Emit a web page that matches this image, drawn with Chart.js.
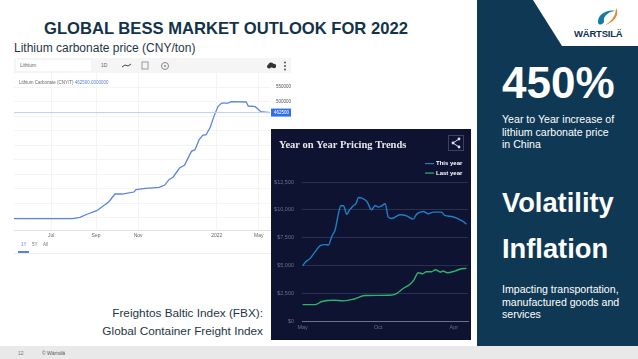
<!DOCTYPE html>
<html>
<head>
<meta charset="utf-8">
<title>Global BESS market outlook for 2022</title>
<script src="https://cdn.jsdelivr.net/npm/chart.js@4"></script>
<style>
    html, body { margin: 0; padding: 0; background: #fff; }
    #slide { position: relative; width: 638px; height: 359px; overflow: hidden; font-family: "Liberation Sans", Arial, sans-serif; }
    #slide > * { position: absolute; }
    canvas { display: block; }
    .side { left: 502px; color: #fff; white-space: nowrap; }
    .big { font-weight: bold; }
    .small { font-size: 10.6px; line-height: 12.5px; }
    .fbx { right: 375px; font-size: 11.8px; color: #1f3644; white-space: nowrap; }
</style>
</head>
<body>
<div id="slide">
    <div style="left:44px;top:19px;font-size:16.6px;font-weight:bold;color:#12334a;white-space:nowrap">GLOBAL BESS MARKET OUTLOOK FOR 2022</div>
    <div style="left:14px;top:41px;font-size:12px;color:#1f3644;white-space:nowrap">Lithium carbonate price (CNY/ton)</div>

    <!-- canvas starts above the plot, chart.js keeps about 9px on top for the tick labels -->
    <canvas id="lithiumChart" width="277" height="181" style="left:14px;top:64px"></canvas>

    <!-- lithium widget toolbar -->
    <div style="left:14px;top:58px;width:277px;height:15px;background:#f5f5f5"></div>
    <div style="left:16px;top:60px;width:75px;height:11px;background:#fff"></div>
    <div style="left:20px;top:62px;font-size:5px;color:#666">Lithium</div>
    <div style="left:101px;top:62px;font-size:5px;color:#666">1D</div>
    <svg style="left:120px;top:60px" width="60" height="12">
        <path d="M2 7 L5 5 L8 6 L11 4" fill="none" stroke="#444" stroke-width="1"/>
        <rect x="22" y="2" width="6" height="7" fill="none" stroke="#999"/>
        <circle cx="45" cy="6" r="3.5" fill="none" stroke="#888"/><circle cx="45" cy="6" r="1" fill="#888"/>
    </svg>
    <svg style="left:266px;top:60px" width="24" height="12">
        <circle cx="5" cy="5" r="2.6" fill="#333"/><circle cx="8" cy="6" r="2.2" fill="#333"/><circle cx="3" cy="6.5" r="2" fill="#333"/>
        <circle cx="19" cy="2.5" r="0.9" fill="#444"/><circle cx="19" cy="6" r="0.9" fill="#444"/><circle cx="19" cy="9.5" r="0.9" fill="#444"/>
    </svg>
    <div style="left:19px;top:80px;font-size:4.5px;color:#666;white-space:nowrap;background:#fff">Lithium Carbonate (CNY/T) <span style="color:#5c80e0">462500.0000000</span></div>

    <div style="left:21px;top:242px;font-size:4.5px;color:#5c80e0">1Y</div>
    <div style="left:32px;top:242px;font-size:4.5px;color:#777">5Y</div>
    <div style="left:43px;top:242px;font-size:4.5px;color:#777">All</div>
    <div style="left:18px;top:251px;width:11px;height:1.5px;background:#5c80e0"></div>
    <div style="left:14px;top:253px;width:257px;height:1px;background:#eee"></div>

    <div class="fbx" style="top:306px">Freightos Baltic Index (FBX):</div>
    <div class="fbx" style="top:324px">Global Container Freight Index</div>

    <!-- pricing trends card -->
    <div style="left:271px;top:129px;width:200px;height:211px;background:#0d1330"></div>
    <canvas id="trendChart" width="200" height="211" style="left:271px;top:129px"></canvas>
    <svg style="left:448px;top:135px" width="16" height="16">
        <rect x="0.5" y="0.5" width="15" height="15" fill="none" stroke="#3a4260"/>
        <path d="M11 4 L5 8 L11 12" fill="none" stroke="#dde" stroke-width="1"/>
        <circle cx="11" cy="4" r="1.4" fill="#dde"/><circle cx="5" cy="8" r="1.4" fill="#dde"/><circle cx="11" cy="12" r="1.4" fill="#dde"/>
    </svg>

    <!-- right panel -->
    <div style="left:477px;top:0;width:161px;height:346px;background:#0f3854"></div>
    <svg style="left:476px;top:0" width="162" height="46">
        <polygon points="57,0 162,0 162,46 86,46" fill="#fff"/>
        <path d="M122 22 C122 13 133 9 140 11 C133 11 127 16 128 21 C128 25 122 26 122 22 Z" fill="#137aa8"/>
        <path d="M140 8 C144 14 139 22 129 25 C136 21 140 15 140 8 Z" fill="#e08a3c"/>
    </svg>
    <div style="left:574px;top:28px;font-size:9.5px;font-weight:bold;color:#12334a;white-space:nowrap;letter-spacing:-0.2px">WÄRTSILÄ</div>

    <div class="side big" style="top:58px;font-size:44px">450%</div>
    <div class="side small" style="top:113px">Year to Year increase of<br>lithium carbonate price<br>in China</div>
    <div class="side big" style="top:187px;font-size:27.3px">Volatility</div>
    <div class="side big" style="top:233px;font-size:27.3px">Inflation</div>
    <div class="side small" style="top:283px">Impacting transportation,<br>manufactured goods and<br>services</div>

    <!-- footer -->
    <div style="left:0;top:346px;width:638px;height:13px;background:#e9e9e9"></div>
    <div style="left:18px;top:350px;font-size:5px;color:#777">12</div>
    <div style="left:42px;top:350px;font-size:5px;color:#555">© Wärtsilä</div>
</div>

<script>
// ========== DATA ==========
const lithiumDays = [0, 84, 94, 105, 118, 135, 144, 154, 171, 174, 188, 207, 215, 221, 227, 236, 243, 253, 258, 264, 269, 274, 280, 285, 291, 296, 305, 310, 331, 334, 344, 352, 365];
const lithiumPrice = [96500, 96500, 101200, 112700, 124100, 154000, 181600, 181600, 188500, 196600, 201200, 204600, 212600, 231000, 240300, 271300, 280500, 328700, 334500, 369000, 384000, 386200, 412600, 449400, 483900, 495400, 495400, 500000, 498900, 485100, 482800, 465500, 462500];
const lithiumLast = 462500;
const lithiumTickDays = [53, 117, 177, 289, 349];
const lithiumTickLabels = ['Jul', 'Sep', 'Nov', '2022', 'May'];
const lithiumPriceTicks = [100000, 150000, 200000, 250000, 300000, 350000, 400000, 450000, 500000, 550000];

const trendWeeks = [0, 0.8, 2.4, 4, 5.6, 7.2, 8.2, 9.3, 10.3, 11.4, 12.1, 13, 14, 14.9, 16.1, 17, 17.7, 18.8, 20.4, 21.9, 23, 24, 25.1, 26.2, 27.2, 28.3, 30.9, 33, 35.1, 36.2, 38.3, 39.9, 41.5, 44.1, 45.1, 47.3, 49.4, 51, 52];
const thisYear = [4970, 5270, 5630, 6235, 6780, 6870, 6840, 7650, 8190, 9700, 10360, 10360, 9580, 10000, 10360, 10600, 11110, 11050, 10750, 10000, 10390, 10240, 10360, 10540, 9340, 9220, 9550, 9460, 9160, 9610, 9850, 9640, 9790, 9790, 9490, 9400, 9190, 8950, 8700];
const lastYearWeeks = [0, 4, 6.1, 9.8, 13, 16.1, 19.8, 27.7, 29.8, 31.9, 34, 35.3, 36.7, 38.1, 39.3, 40.9, 42.2, 43.8, 44.6, 45.9, 48.3, 50.4, 52];
const lastYear = [1475, 1475, 1750, 1870, 1810, 1960, 2290, 2320, 2470, 2920, 3280, 3670, 4340, 4250, 4430, 4430, 4610, 4400, 4490, 4340, 4490, 4700, 4730];
const trendTickWeeks = [0, 24, 48];
const trendTickLabels = ['May', 'Oct', 'Apr'];
const trendPriceTicks = [0, 2500, 5000, 7500, 10000, 12500];

function zip(xs, ys) {
    return xs.map((x, i) => ({ x: x, y: ys[i] }));
}

// ========== LITHIUM CHART ==========
// blue tag for the last price on the right axis
const lastPriceTag = {
    id: 'lastPriceTag',
    afterDraw(chart) {
        const ctx = chart.ctx;
        const y = chart.scales.y.getPixelForValue(lithiumLast);
        ctx.save();
        ctx.fillStyle = '#2f6fe8';
        ctx.fillRect(chart.chartArea.right + 1, y - 4, 20, 8);
        ctx.fillStyle = '#fff';
        ctx.font = '4.5px "Liberation Sans"';
        ctx.textBaseline = 'middle';
        ctx.fillText(String(lithiumLast), chart.chartArea.right + 4, y);
        ctx.restore();
    }
};

new Chart(document.getElementById('lithiumChart'), {
    type: 'line',
    data: {
        datasets: [{
            data: zip([0, 365], [lithiumLast, lithiumLast]),
            borderColor: '#bcd0f5',
            borderWidth: 1,
            pointRadius: 0
        }, {
            data: zip(lithiumDays, lithiumPrice),
            borderColor: '#5b85dc',
            borderWidth: 1.3,
            pointRadius: 0
        }]
    },
    options: {
        responsive: false,
        animation: false,
        plugins: { legend: { display: false }, tooltip: { enabled: false } },
        layout: { padding: 0 },
        scales: {
            x: {
                type: 'linear',
                min: 0,
                max: 365,
                afterBuildTicks: axis => { axis.ticks = lithiumTickDays.map(v => ({ value: v })); },
                afterFit: axis => { axis.height = 15; },
                grid: { color: '#f4f4f4', drawTicks: false },
                border: { color: '#e2e2e2' },
                ticks: {
                    autoSkip: false,
                    maxRotation: 0,
                    padding: 3,
                    font: { size: 5, family: 'Liberation Sans' },
                    color: '#666',
                    callback: v => lithiumTickLabels[lithiumTickDays.indexOf(v)]
                }
            },
            y: {
                position: 'right',
                min: 57500,
                max: 600000,
                afterBuildTicks: axis => { axis.ticks = lithiumPriceTicks.map(v => ({ value: v })); },
                afterFit: axis => { axis.width = 21; },
                grid: { color: '#f4f4f4', drawTicks: false },
                border: { display: false },
                ticks: {
                    autoSkip: false,
                    padding: 6,
                    font: { size: 4.5, family: 'Liberation Sans' },
                    color: '#555',
                    callback: v => (v >= 500000 ? String(v) : '')
                }
            }
        }
    },
    plugins: [lastPriceTag]
});

// ========== PRICING TRENDS CHART ==========
new Chart(document.getElementById('trendChart'), {
    type: 'line',
    data: {
        datasets: [{
            label: 'This year',
            data: zip(trendWeeks, thisYear),
            borderColor: '#1f7fc9',
            borderWidth: 1.4,
            pointRadius: 0,
            cubicInterpolationMode: 'monotone'
        }, {
            label: 'Last year',
            data: zip(lastYearWeeks, lastYear),
            borderColor: '#2fb36f',
            borderWidth: 1.4,
            pointRadius: 0,
            cubicInterpolationMode: 'monotone'
        }]
    },
    options: {
        responsive: false,
        animation: false,
        layout: { padding: { top: 53, right: 3, bottom: 6 } },
        plugins: {
            tooltip: { enabled: false },
            legend: { display: false }
        },
        scales: {
            x: {
                type: 'linear',
                min: -0.2,
                max: 52.5,
                afterBuildTicks: axis => { axis.ticks = trendTickWeeks.map(v => ({ value: v })); },
                afterFit: axis => { axis.height = 13; },
                grid: { display: false, drawTicks: false },
                border: { color: '#6a7090', width: 1 },
                ticks: {
                    autoSkip: false,
                    maxRotation: 0,
                    padding: 3,
                    font: { size: 5.5, family: 'Liberation Sans' },
                    color: '#6a7088',
                    callback: v => trendTickLabels[trendTickWeeks.indexOf(v)]
                }
            },
            y: {
                min: 0,
                max: 12500,
                afterBuildTicks: axis => { axis.ticks = trendPriceTicks.map(v => ({ value: v })); },
                afterFit: axis => { axis.width = 31; },
                grid: { color: '#2b3050', drawTicks: false },
                border: { display: false },
                ticks: {
                    padding: 8,
                    font: { size: 5.5, family: 'Liberation Sans' },
                    color: '#6b7188',
                    callback: v => '$' + v.toLocaleString('en-US')
                }
            }
        }
    },
    plugins: [{
        id: 'cardTitle',
        afterDraw(chart) {
            const ctx = chart.ctx;
            ctx.save();
            ctx.fillStyle = '#e8e8ee';
            ctx.font = 'bold 10.5px "Liberation Serif"';
            ctx.textBaseline = 'middle';
            ctx.fillText('Year on Year Pricing Trends', 8, 16);
            // legend stacked top right, from the datasets
            ctx.font = 'bold 6px "Liberation Sans"';
            chart.data.datasets.forEach((ds, i) => {
                const y = 34.5 + i * 9.5;
                ctx.fillStyle = ds.borderColor;
                ctx.fillRect(154, y - 0.5, 9, 1.2);
                ctx.fillStyle = '#fff';
                ctx.fillText(ds.label, 165, y);
            });
            ctx.restore();
        }
    }]
});
</script>
</body>
</html>
